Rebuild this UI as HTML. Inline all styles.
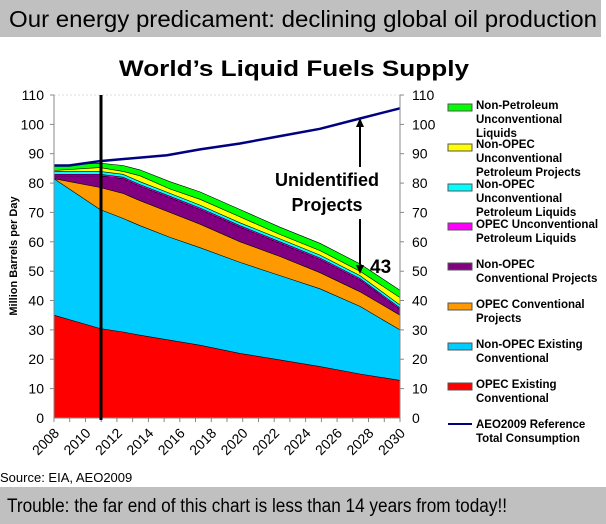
<!DOCTYPE html>
<html><head><meta charset="utf-8"><style>
html,body{margin:0;padding:0;background:#fff;}
svg{display:block;font-family:"Liberation Sans",sans-serif;}
</style></head><body>
<svg width="606" height="524" viewBox="0 0 606 524" xmlns="http://www.w3.org/2000/svg">
<rect x="0" y="0" width="601" height="37" fill="#c0c0c0"/>
<text x="303" y="27" font-size="23" text-anchor="middle" textLength="588" lengthAdjust="spacingAndGlyphs">Our energy predicament: declining global oil production</text>
<text x="294" y="76" font-size="22" font-weight="bold" text-anchor="middle" textLength="350" lengthAdjust="spacingAndGlyphs">World’s Liquid Fuels Supply</text>
<g stroke="#ddd" stroke-dasharray="2,2" stroke-width="1">
<line x1="54" y1="95" x2="400" y2="95"/>
</g>
<polygon fill="#00ff00" stroke="#000" stroke-width="0.6" points="54,165.5 100,163.2 123,165.5 140,169.9 170,181.7 200,191.9 240,209.5 280,227.2 320,243.3 360,263.9 400,290.3 400,418 54,418"/>
<polygon fill="#ffff00" stroke="#000" stroke-width="0.6" points="54,170.5 100,167.6 123,171.4 140,175.8 170,189 200,199.3 240,216.9 280,234.5 320,250.6 360,271.2 400,297.6 400,418 54,418"/>
<polygon fill="#00ffff" stroke="#000" stroke-width="0.6" points="54,171.4 100,171.4 123,174.3 140,181.7 170,193.4 200,205.1 240,222.8 280,238.9 320,255.1 360,275.6 400,305 400,418 54,418"/>
<polygon fill="#ff00ff" stroke="#000" stroke-width="0.6" points="54,174.3 100,174.3 123,177.2 140,184.6 170,196.3 200,208 240,225.7 280,241.8 320,258 360,278.5 400,307.9 400,418 54,418"/>
<polygon fill="#800080" stroke="#000" stroke-width="0.6" points="54,175.8 100,175.8 123,178.7 140,186.1 170,197.8 200,209.5 240,227.2 280,243.3 320,259.5 360,280 400,309.4 400,418 54,418"/>
<polygon fill="#ff9900" stroke="#000" stroke-width="0.6" points="54,178.7 100,187.5 123,193.4 140,200.7 170,212.5 200,224.2 240,241.8 280,256.5 320,272.7 360,291.8 400,315.2 400,418 54,418"/>
<polygon fill="#00ccff" stroke="#000" stroke-width="0.6" points="54,178.7 100,209.5 123,218.4 140,225.7 170,237.4 200,247.7 240,262.4 280,275.6 320,288.8 360,306.4 400,329.9 400,418 54,418"/>
<polygon fill="#ff0000" stroke="#000" stroke-width="0.6" points="54,315.2 100,328.5 123,332 140,335.2 170,340.2 200,345.2 240,353.4 280,359.9 320,366.6 360,374 400,380.4 400,418 54,418"/>
<polyline fill="none" stroke="#000080" stroke-width="2.5" points="54,165.5 69,165.5 100,161.1 167,155.2 200,149.4 240,143.5 280,136.1 320,128.8 360,118.5 400,108.3"/>
<g stroke="#888" stroke-width="1">
<line x1="54" y1="95" x2="54" y2="418"/>
<line x1="400" y1="95" x2="400" y2="418"/>
<line x1="54" y1="418" x2="400" y2="418"/>
</g>
<g stroke="#888" stroke-width="1">
<line x1="50" y1="95" x2="54" y2="95"/><line x1="50" y1="124.4" x2="54" y2="124.4"/><line x1="50" y1="153.7" x2="54" y2="153.7"/><line x1="50" y1="183.1" x2="54" y2="183.1"/><line x1="50" y1="212.4" x2="54" y2="212.4"/><line x1="50" y1="241.8" x2="54" y2="241.8"/><line x1="50" y1="271.2" x2="54" y2="271.2"/><line x1="50" y1="300.5" x2="54" y2="300.5"/><line x1="50" y1="329.9" x2="54" y2="329.9"/><line x1="50" y1="359.2" x2="54" y2="359.2"/><line x1="50" y1="388.6" x2="54" y2="388.6"/>
<line x1="400" y1="95" x2="404" y2="95"/><line x1="400" y1="124.4" x2="404" y2="124.4"/><line x1="400" y1="153.7" x2="404" y2="153.7"/><line x1="400" y1="183.1" x2="404" y2="183.1"/><line x1="400" y1="212.4" x2="404" y2="212.4"/><line x1="400" y1="241.8" x2="404" y2="241.8"/><line x1="400" y1="271.2" x2="404" y2="271.2"/><line x1="400" y1="300.5" x2="404" y2="300.5"/><line x1="400" y1="329.9" x2="404" y2="329.9"/><line x1="400" y1="359.2" x2="404" y2="359.2"/><line x1="400" y1="388.6" x2="404" y2="388.6"/>
<line x1="54" y1="418" x2="54" y2="422"/><line x1="69.7" y1="418" x2="69.7" y2="422"/><line x1="85.5" y1="418" x2="85.5" y2="422"/><line x1="101.2" y1="418" x2="101.2" y2="422"/><line x1="116.9" y1="418" x2="116.9" y2="422"/><line x1="132.6" y1="418" x2="132.6" y2="422"/><line x1="148.4" y1="418" x2="148.4" y2="422"/><line x1="164.1" y1="418" x2="164.1" y2="422"/><line x1="179.8" y1="418" x2="179.8" y2="422"/><line x1="195.5" y1="418" x2="195.5" y2="422"/><line x1="211.3" y1="418" x2="211.3" y2="422"/><line x1="227" y1="418" x2="227" y2="422"/><line x1="242.7" y1="418" x2="242.7" y2="422"/><line x1="258.5" y1="418" x2="258.5" y2="422"/><line x1="274.2" y1="418" x2="274.2" y2="422"/><line x1="289.9" y1="418" x2="289.9" y2="422"/><line x1="305.6" y1="418" x2="305.6" y2="422"/><line x1="321.4" y1="418" x2="321.4" y2="422"/><line x1="337.1" y1="418" x2="337.1" y2="422"/><line x1="352.8" y1="418" x2="352.8" y2="422"/><line x1="368.5" y1="418" x2="368.5" y2="422"/><line x1="384.3" y1="418" x2="384.3" y2="422"/><line x1="400" y1="418" x2="400" y2="422"/>
</g>
<g font-size="14" text-anchor="end">
<text x="44" y="100">110</text><text x="44" y="129.4">100</text><text x="44" y="158.7">90</text><text x="44" y="188.1">80</text><text x="44" y="217.4">70</text><text x="44" y="246.8">60</text><text x="44" y="276.2">50</text><text x="44" y="305.5">40</text><text x="44" y="334.9">30</text><text x="44" y="364.2">20</text><text x="44" y="393.6">10</text><text x="44" y="423">0</text>
</g>
<g font-size="14" text-anchor="start">
<text x="412" y="100">110</text><text x="412" y="129.4">100</text><text x="412" y="158.7">90</text><text x="412" y="188.1">80</text><text x="412" y="217.4">70</text><text x="412" y="246.8">60</text><text x="412" y="276.2">50</text><text x="412" y="305.5">40</text><text x="412" y="334.9">30</text><text x="412" y="364.2">20</text><text x="412" y="393.6">10</text><text x="412" y="423">0</text>
</g>
<g font-size="14" text-anchor="end">
<text transform="translate(60,434) rotate(-45)">2008</text>
<text transform="translate(91.5,434) rotate(-45)">2010</text>
<text transform="translate(123,434) rotate(-45)">2012</text>
<text transform="translate(154.4,434) rotate(-45)">2014</text>
<text transform="translate(185.8,434) rotate(-45)">2016</text>
<text transform="translate(217.3,434) rotate(-45)">2018</text>
<text transform="translate(248.7,434) rotate(-45)">2020</text>
<text transform="translate(280.2,434) rotate(-45)">2022</text>
<text transform="translate(311.6,434) rotate(-45)">2024</text>
<text transform="translate(343,434) rotate(-45)">2026</text>
<text transform="translate(374.5,434) rotate(-45)">2028</text>
<text transform="translate(406,434) rotate(-45)">2030</text>
</g>
<text transform="translate(17,256) rotate(-90)" font-size="11" font-weight="bold" text-anchor="middle">Million Barrels per Day</text>
<line x1="101" y1="95" x2="101" y2="420" stroke="#000" stroke-width="3"/>
<text x="327" y="186" font-size="18" font-weight="bold" text-anchor="middle">Unidentified</text>
<text x="327" y="211" font-size="18" font-weight="bold" text-anchor="middle">Projects</text>
<line x1="360" y1="167" x2="360" y2="125" stroke="#000" stroke-width="2"/>
<polygon points="360,118 356,127 364,127" fill="#000"/>
<line x1="360" y1="219" x2="360" y2="266" stroke="#000" stroke-width="2"/>
<polygon points="360,274 356,265 364,265" fill="#000"/>
<text x="370" y="273" font-size="19" font-weight="bold">43</text>
<g font-size="11.5" font-weight="bold">
<rect x="448" y="104" width="24" height="7" fill="#00ff00" stroke="#555"/>
<text x="476" y="109">Non-Petroleum</text><text x="476" y="123">Unconventional</text><text x="476" y="137">Liquids</text>
<rect x="448" y="144" width="24" height="7" fill="#ffff00" stroke="#555"/>
<text x="476" y="148">Non-OPEC</text><text x="476" y="162">Unconventional</text><text x="476" y="176">Petroleum Projects</text>
<rect x="448" y="184" width="24" height="7" fill="#00ffff" stroke="#555"/>
<text x="476" y="188">Non-OPEC</text><text x="476" y="202">Unconventional</text><text x="476" y="216">Petroleum Liquids</text>
<rect x="448" y="223" width="24" height="7" fill="#ff00ff" stroke="#555"/>
<text x="476" y="228">OPEC Unconventional</text><text x="476" y="242">Petroleum Liquids</text>
<rect x="448" y="263" width="24" height="7" fill="#800080" stroke="#555"/>
<text x="476" y="268">Non-OPEC</text><text x="476" y="282">Conventional Projects</text>
<rect x="448" y="303" width="24" height="7" fill="#ff9900" stroke="#555"/>
<text x="476" y="308">OPEC Conventional</text><text x="476" y="322">Projects</text>
<rect x="448" y="343" width="24" height="7" fill="#00ccff" stroke="#555"/>
<text x="476" y="348">Non-OPEC Existing</text><text x="476" y="362">Conventional</text>
<rect x="448" y="383" width="24" height="7" fill="#ff0000" stroke="#555"/>
<text x="476" y="388">OPEC Existing</text><text x="476" y="402">Conventional</text>
<line x1="448" y1="424" x2="472" y2="424" stroke="#000080" stroke-width="2"/>
<text x="476" y="428">AEO2009 Reference</text><text x="476" y="442">Total Consumption</text>
</g>
<text x="0" y="482" font-size="13">Source: EIA, AEO2009</text>
<rect x="0" y="487" width="606" height="37" fill="#c0c0c0"/>
<text x="7" y="512" font-size="19" textLength="500" lengthAdjust="spacingAndGlyphs">Trouble: the far end of this chart is less than 14 years from today!!</text>
</svg>
</body></html>
